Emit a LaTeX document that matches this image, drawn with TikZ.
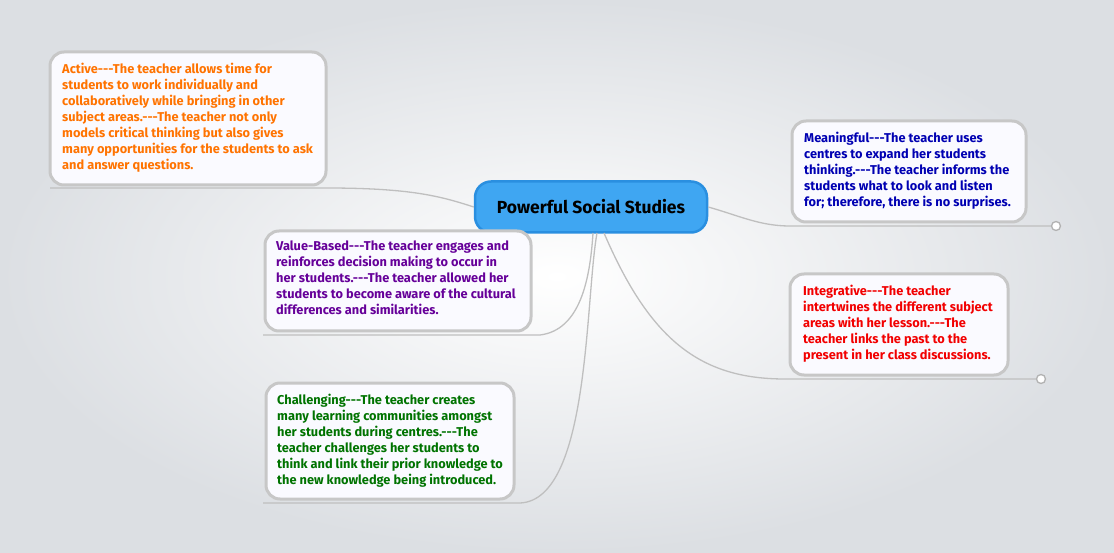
\documentclass[tikz,border=0pt]{standalone}
\usepackage{fontspec}
\setmainfont{Fira Sans}
\newcommand{\ddd}{-{}-{}-}
\definecolor{bgedge}{HTML}{DCDFE3}
\definecolor{cfill}{HTML}{3FA6F2}
\definecolor{cdraw}{HTML}{2A8FE0}
\begin{document}
\begin{tikzpicture}[x=1pt,y=-1pt,
  box/.style={draw=black!22,line width=3pt,fill=blue!2,rounded corners=14pt,inner sep=0pt},
  txt/.style={anchor=north west,align=left,font=\fontsize{12.8}{16}\selectfont\bfseries,inner sep=0pt},
  link/.style={draw=black!25,line width=1.3pt},
  endc/.style={circle,draw=black!30,line width=1.3pt,fill=white,minimum size=9pt,inner sep=0pt}]
\shade[inner color=white,outer color=bgedge] (0,0) rectangle (1114,553);
\useasboundingbox (0,0) rectangle (1114,553);
% center
\node[draw=cdraw,line width=2.5pt,fill=cfill,rounded corners=16pt,minimum width=232pt,minimum height=51pt,font=\fontsize{17.5}{20}\selectfont\bfseries] (c) at (591,207) {Powerful Social Studies};
% coordinates
\coordinate (a1) at (50,188); \coordinate (a2) at (326,188);
\coordinate (v1) at (263,335); \coordinate (v2) at (540,335);
\coordinate (g1) at (263,503); \coordinate (g2) at (520,503);
\coordinate (m1) at (790,226); \node[endc] (m2) at (1056,226) {};
\coordinate (i1) at (785,379); \node[endc] (i2) at (1041,379) {};
\draw[link] (a1) -- (a2) .. controls (410,188) and (440,196) .. (c.west);
\draw[link] (v1) -- (v2) .. controls (580,330) and (590,280) .. (593,233);
\draw[link] (g1) -- (g2) .. controls (590,500) and (585,300) .. (597,233);
\draw[link] (c.east) .. controls (740,216) and (760,226) .. (m1) -- (m2);
\draw[link] (604,233) .. controls (650,340) and (700,379) .. (i1) -- (i2);
% boxes
\draw[box] (50,52) rectangle (326,185);
\node[txt,text=orange!90!red] (ta) at (62,63) {Active\ddd The teacher allows time for\\students to work individually and\\collaboratively while bringing in other\\subject areas.\ddd The teacher not only\\models critical thinking but also gives\\many opportunities for the students to ask\\and answer questions.};
\draw[box] (265,231) rectangle (531,331);
\node[txt,text=violet!80!blue] (tv) at (276,241) {Value-Based\ddd The teacher engages and\\reinforces decision making to occur in\\her students.\ddd The teacher allowed her\\students to become aware of the cultural\\differences and similarities.};
\draw[box] (266,383) rectangle (514,499);
\node[txt,text=green!45!black] (tg) at (277,394) {Challenging\ddd The teacher creates\\many learning communities amongst\\her students during centres.\ddd The\\teacher challenges her students to\\think and link their prior knowledge to\\the new knowledge being introduced.};
\draw[box] (792,121) rectangle (1026,222);
\node[txt,text=blue!70!black] (tm) at (804,132) {Meaningful\ddd The teacher uses\\centres to expand her students\\thinking.\ddd The teacher informs the\\students what to look and listen\\for; therefore, there is no surprises.};
\draw[box] (790,274) rectangle (1008,375);
\node[txt,text=red!95!black] (ti) at (803,285) {Integrative\ddd The teacher\\intertwines the different subject\\areas with her lesson.\ddd The\\teacher links the past to the\\present in her class discussions.};
\end{tikzpicture}
\end{document}
